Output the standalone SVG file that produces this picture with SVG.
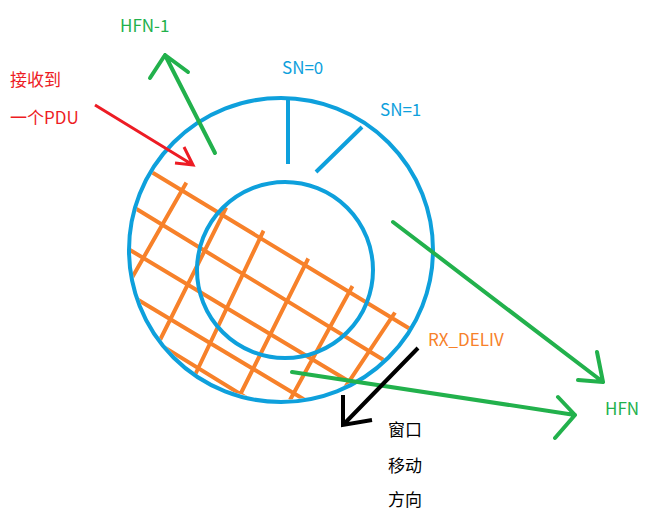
<svg xmlns="http://www.w3.org/2000/svg" width="662" height="521" viewBox="0 0 662 521">
<style>
.t{font-family:"Microsoft YaHei","Noto Sans CJK SC",sans-serif;font-size:17px}
.b{stroke:#0ea0dc;stroke-width:4;fill:none}
.g{stroke:#22b14c;stroke-width:4;fill:none;stroke-linecap:round;stroke-linejoin:round}
.o{stroke:#f7812a;stroke-width:4;fill:none}
</style>
<defs>
<clipPath id="c"><polygon points="0,155 150,160 415,325 415,521 0,521"/></clipPath>
<clipPath id="oc"><circle cx="281" cy="250" r="150"/></clipPath>
</defs>
<rect width="662" height="521" fill="#fff"/>
<g id="hatch" clip-path="url(#c)"><g clip-path="url(#oc)">
<path class="o" d="M140,165L415,332 M130,205L400,370 M130,250L380,400 M130,295L330,415 M120,320L250,400 M205,150L125,290 M250,160L155,350 M290,175L195,375 M335,205L240,395 M375,245L290,400 M410,290L330,410"/>
</g></g>
<g id="ring">
<circle class="b" cx="281" cy="250" r="152"/>
<circle class="b" cx="285" cy="270" r="88"/>
<path class="b" d="M288,98V164M362,127L316,172"/>
</g>
<g id="connectors">
<path class="g" d="M215,153L165,55M150,78L165,55L188,72"/>
<path class="g" d="M393,222L603,382M597,352L603,382L578,380"/>
<path class="g" d="M292,372L575,415M558,397L575,415L555,438"/>
<path d="M418,348L343,425M343,395L343,425L372,420" stroke="#000" stroke-width="4" fill="none"/>
<path d="M95,105L193,165M175,163L193,165L184,147" stroke="#ed1c24" stroke-width="3" fill="none"/>
</g>
<g id="labels" class="t">
<text x="120" y="32" fill="#22b14c">HFN-1</text>
<text x="282" y="74" fill="#0ea0dc">SN=0</text>
<text x="380" y="116" fill="#0ea0dc">SN=1</text>
<text x="10" y="86" fill="#ed1c24">接收到</text>
<text x="10" y="124" fill="#ed1c24">一个PDU</text>
<text x="428" y="346" fill="#f7812a">RX_DELIV</text>
<text x="605" y="415" fill="#22b14c">HFN</text>
<text x="388" y="436" fill="#000">窗口</text>
<text x="388" y="472" fill="#000">移动</text>
<text x="388" y="506" fill="#000">方向</text>
</g>
</svg>
